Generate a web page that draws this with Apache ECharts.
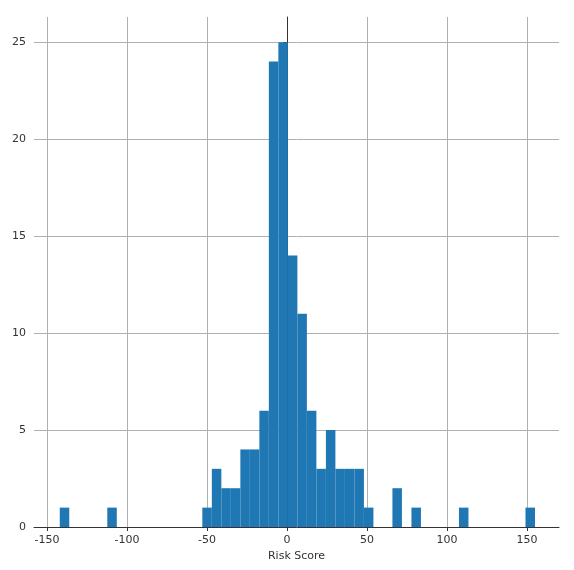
<!DOCTYPE html>
<html><head><meta charset="utf-8">
<script src="https://cdn.jsdelivr.net/npm/echarts@6/dist/echarts.min.js"></script>
<style>html,body{margin:0;padding:0;background:#fff}#c{width:574px;height:570px}</style>
</head><body><div id="c"></div>
<script>
const binMin = -142.0;
const binMax = 155.0;
const counts = [1,0,0,0,0,1,0,0,0,0,0,0,0,0,0,
  1,3,2,2,4,4,6,24,25,14,11,6,3,5,3,3,3,1,
  0,0,2,0,1,0,0,0,0,1,0,0,0,0,0,0,1];
const xTicks = [-150,-100,-50,0,50,100,150];
const yTicks = [0,5,10,15,20,25];
const w = (binMax - binMin) / counts.length;
const data = counts.map((c,i)=>[binMin+i*w, binMin+(i+1)*w, c]).filter(d=>d[2]>0);
const chart = echarts.init(document.getElementById('c'));
const font = 'DejaVu Sans';
chart.setOption({
  animation:false,
  grid:{left:34,right:15,top:17,bottom:43},
  xAxis:{type:'value',min:-158.1,max:170,name:'Risk Score',nameLocation:'middle',nameGap:22,
    nameTextStyle:{color:'#333',fontFamily:font,fontSize:11},
    axisLine:{onZero:false,lineStyle:{color:'#333'}},
    axisTick:{show:true,customValues:xTicks,length:4,lineStyle:{color:'#333'}},
    axisLabel:{customValues:xTicks,color:'#333',fontFamily:font,fontSize:11},
    splitLine:{show:true,lineStyle:{color:'#b0b0b0'}}},
  yAxis:{type:'value',min:0,max:26.3,
    axisLine:{show:true,lineStyle:{color:'#333'}},
    axisTick:{show:true,customValues:yTicks,length:4,lineStyle:{color:'#333'}},
    axisLabel:{customValues:yTicks,color:'#333',fontFamily:font,fontSize:11},
    splitLine:{show:true,lineStyle:{color:'#b0b0b0'}}},
  series:[{type:'custom',data:data,encode:{x:[0,1],y:2},
    renderItem:function(params,api){
      const p0=api.coord([api.value(0),0]);
      const p1=api.coord([api.value(1),api.value(2)]);
      return {type:'rect',shape:{x:p0[0],y:p1[1],width:p1[0]-p0[0],height:p0[1]-p1[1]},
        style:{fill:'#1f77b4'}};
    }}]
});
</script></body></html>
